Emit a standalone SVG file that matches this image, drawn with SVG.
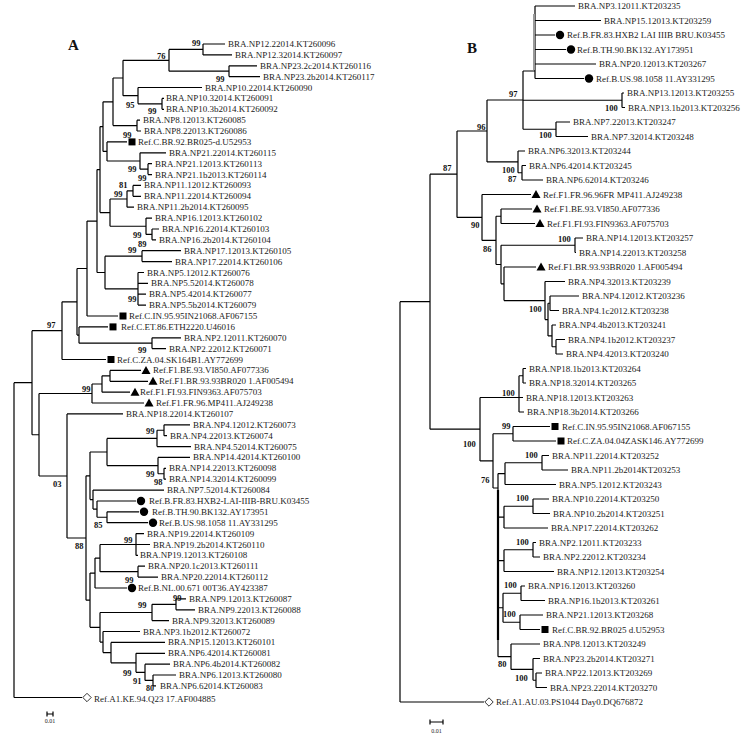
<svg xmlns="http://www.w3.org/2000/svg" xmlns:xlink="http://www.w3.org/1999/xlink" width="750" height="739" viewBox="0 0 750 739">
<style>
.t{font-family:"Liberation Serif",serif;font-size:9px;fill:#222}
.bs{font-family:"Liberation Serif",serif;font-size:8.5px;font-weight:bold;fill:#111}
.ttl{font-family:"Liberation Serif",serif;font-size:15px;font-weight:bold;fill:#111}
.sc{font-family:"Liberation Serif",serif;font-size:6px;fill:#222}
.e{fill:none;stroke:#000;stroke-width:1.2}
</style>
<defs>
<rect id="sq" x="-3.5" y="-3.5" width="7" height="7" fill="#000"/>
<path id="tri" d="M0,-4.5L4.5,3.5H-4.5Z" fill="#000"/>
<circle id="dot" r="4.2" fill="#000"/>
<path id="dia" d="M0,-4.2L4.2,0L0,4.2L-4.2,0Z" fill="#fff" stroke="#000" stroke-width="0.8"/>
</defs>
<rect width="750" height="739" fill="#fff"/>
<text class="ttl" x="68" y="50">A</text>
<text class="ttl" x="467" y="53">B</text>
<g id="connectors-a" class="e">
<path d="M203,44V54.9M203,44H225M203,54.9H232"/>
<path d="M229,65.8V76.6M229,65.8H257M229,76.6H260"/>
<path d="M169,49.45V71.2M169,49.45H203M169,71.2H229"/>
<path d="M162,98.4V109.3M162,98.4H164M162,109.3H164"/>
<path d="M138,87.5V103.85M138,87.5H202M138,103.85H162"/>
<path d="M123,60.3V95.7M123,60.3H169M123,95.7H138"/>
<path d="M137,120.2V131M137,120.2H140M137,131H141"/>
<path d="M113,78V125.6M113,78H123M113,125.6H137"/>
<path d="M148,163.7V174.6M148,163.7H152M148,174.6H152"/>
<path d="M140,152.8V169.15M140,152.8H166M140,169.15H148"/>
<path d="M107,141.9V161M107,141.9H127M107,161H140"/>
<path d="M103,101.8V151.45M103,101.8H113M103,151.45H107"/>
<path d="M133,185.4V196.3M133,185.4H141M133,196.3H141"/>
<path d="M127,190.85V207.2M127,190.85H133M127,207.2H134"/>
<path d="M152,229V239.8M152,229H159M152,239.8H156"/>
<path d="M146,218.1V234.4M146,218.1H152M146,234.4H152"/>
<path d="M110,199V226.25M110,199H127M110,226.25H146"/>
<path d="M100,126.6V212.6M100,126.6H103M100,212.6H110"/>
<path d="M142,250.7V261.6M142,250.7H181M142,261.6H172"/>
<path d="M138,272.5V305.1M138,272.5H144M138,283.4H148M138,294.2H146M138,305.1H146"/>
<path d="M105,256.15V288.8M105,256.15H142M105,288.8H138"/>
<path d="M97,169.6V272.5M97,169.6H100M97,272.5H105"/>
<path d="M87,221.05V316M87,221.05H97M87,316H118"/>
<path d="M152,337.8V348.6M152,337.8H181M152,348.6H166"/>
<path d="M79,326.9V343.2M79,326.9H108M79,343.2H152"/>
<path d="M77,268.5V335.05M77,268.5H87M77,335.05H79"/>
<path d="M62,301.8V359.5M62,301.8H77M62,359.5H106"/>
<path d="M110,370.4V381.3M110,370.4H141M110,381.3H148"/>
<path d="M102,375.85V392.2M102,375.85H110M102,392.2H130"/>
<path d="M92,384V403M92,384H102M92,403H144"/>
<path d="M164,424.8V435.7M164,424.8H190M164,435.7H167"/>
<path d="M157,430.25V446.6M157,430.25H164M157,446.6H191"/>
<path d="M164,468.3V479.2M164,468.3H166M164,479.2H166"/>
<path d="M158,457.4V473.75M158,457.4H190M158,473.75H164"/>
<path d="M107,438.4V465.6M107,438.4H157M107,465.6H158"/>
<path d="M107,511.8V522.7M107,511.8H139M107,522.7H148"/>
<path d="M97,501V517.25M97,501H136M97,517.25H107"/>
<path d="M93,490.1V509.1M93,490.1H164M93,509.1H97"/>
<path d="M90,452V499.6M90,452H107M90,499.6H93"/>
<path d="M136,533.6V555.4M136,533.6H144M136,544.5H150M136,555.4H138"/>
<path d="M138,566.2V577.1M138,566.2H145M138,577.1H158"/>
<path d="M100,544.5V571.65M100,544.5H136M100,571.65H138"/>
<path d="M95,558.1V588M95,558.1H100M95,588H127"/>
<path d="M176,598.9V609.8M176,598.9H186M176,609.8H195"/>
<path d="M152,604.35V620.6M152,604.35H176M152,620.6H169"/>
<path d="M153,675V685.9M153,675H176M153,685.9H156"/>
<path d="M145,664.2V680.45M145,664.2H170M145,680.45H153"/>
<path d="M136,653.3V672.3M136,653.3H165M136,672.3H145"/>
<path d="M111,642.4V662.8M111,642.4H165M111,662.8H136"/>
<path d="M103,631.5V652.6M103,631.5H140M103,652.6H111"/>
<path d="M100,612.5V642.05M100,612.5H152M100,642.05H103"/>
<path d="M90,573.05V627.3M90,573.05H95M90,627.3H100"/>
<path d="M86,475.8V600.2M86,475.8H90M86,600.2H90"/>
<path d="M67,413.9V538M67,413.9H123M67,538H86"/>
<path d="M39,393.5V476M39,393.5H92M39,476H67"/>
<path d="M32,330.65V434.75M32,330.65H62M32,434.75H39"/>
<path d="M14,382.7V697.5M14,382.7H32M14,697.5H82"/>
</g>
<g id="connectors-b" class="e">
<path d="M535,6V78.5M535,6H575M535,20.5H601M535,35H555M535,49.5H566M535,64H596M535,78.5H584"/>
<path d="M534,14V70" stroke="#999" stroke-width="2"/>
<path d="M622,93V107.5M622,93H624M622,107.5H625"/>
<path d="M556,122V136.5M556,122H570M556,136.5H588"/>
<path d="M523,71V129.25M523,71H535M523,100.25H622M523,129.25H556"/>
<path d="M522,165.5V180M522,165.5H526M522,180H543"/>
<path d="M518,151V172.75M518,151H525M518,172.75H522"/>
<path d="M487,100V161.9M487,100H523M487,161.9H518"/>
<path d="M501,209V223.5M501,209H532M501,223.5H535"/>
<path d="M575,238V252.5M575,238H583M575,252.5H576"/>
<path d="M556,339.5V354M556,339.5H565M556,354H563"/>
<path d="M552,325V346.75M552,325H556M552,346.75H556"/>
<path d="M550,296V310.5M550,296H579M550,310.5H559"/>
<path d="M548,303.25V335.9M548,303.25H550M548,335.9H552"/>
<path d="M545,281.5V319.6M545,281.5H565M545,319.6H548"/>
<path d="M504,267V300.55M504,267H536M504,300.55H545"/>
<path d="M501,245.25V283.8M501,245.25H575M501,283.8H504"/>
<path d="M496,216.25V264.5M496,216.25H501M496,264.5H501"/>
<path d="M482,194.5V240.4M482,194.5H531M482,240.4H496"/>
<path d="M457,131V217.45M457,131H487M457,217.45H482"/>
<path d="M523,368.5V383M523,368.5H526M523,383H526"/>
<path d="M519,375.75V412M519,375.75H523M519,397.5H523M519,412H524"/>
<path d="M513,426.5V441M513,426.5H550M513,441H556"/>
<path d="M542,455.5V470M542,455.5H549M542,470H568"/>
<path d="M505,462.75V484.5M505,462.75H542M505,484.5H556"/>
<path d="M533,499V513.5M533,499H549M533,513.5H550"/>
<path d="M504,506.25V528M504,506.25H533M504,528H548"/>
<path d="M533,542.5V557M533,542.5H536M533,557H540"/>
<path d="M504,549.75V571.5M504,549.75H533M504,571.5H554"/>
<path d="M521,586V600.5M521,586H525M521,600.5H545"/>
<path d="M520,615V629.5M520,615H543M520,629.5H540"/>
<path d="M503,593.25V622.25M503,593.25H521M503,622.25H520"/>
<path d="M536,673V687.5M536,673H542M536,687.5H547"/>
<path d="M533,658.5V680.25M533,658.5H540M533,680.25H536"/>
<path d="M511,644V669.4M511,644H540M511,669.4H533"/>
<path d="M498,473.6V656.7M498,473.6H505M498,517.1H504M498,560.6H504M498,607.75H503M498,656.7H511"/>
<path d="M498,490V640" stroke-width="2.2"/>
<path d="M493,433.75V488M493,433.75H513M493,488H498"/>
<path d="M480,397.5V460.9M480,397.5H519M480,460.9H493"/>
<path d="M430,174.2V429.2M430,174.2H457M430,429.2H480"/>
<path d="M400,301.7V702M400,301.7H430M400,702H484"/>
</g>
<g id="scale-bars">
<path class="e" d="M47,714H53M47,711.5V716.5M53,711.5V716.5" stroke-width="1"/>
<text class="sc" x="50" y="723" text-anchor="middle">0.01</text>
<path class="e" d="M430,722H443M430,719.5V724.5M443,719.5V724.5" stroke-width="1"/>
<text class="sc" x="436.5" y="733" text-anchor="middle">0.01</text>
</g>
<g id="support-a" class="bs">
<text x="192" y="46">99</text><text x="157" y="59">76</text><text x="216" y="82">99</text>
<text x="126" y="108">95</text><text x="148" y="114">99</text><text x="123" y="138">99</text>
<text x="128" y="172">99</text><text x="138" y="181">99</text><text x="119" y="188">81</text>
<text x="114" y="197">99</text><text x="133" y="238">99</text><text x="138" y="247">89</text>
<text x="128" y="253">99</text><text x="128" y="302">99</text><text x="47" y="328">97</text>
<text x="138" y="353">99</text><text x="82" y="392">99</text><text x="146" y="434">99</text>
<text x="146" y="477">99</text><text x="154" y="485">98</text><text x="53" y="487">03</text>
<text x="94" y="528">85</text><text x="124" y="543">99</text><text x="75" y="549">88</text>
<text x="125" y="583">99</text><text x="173" y="601">99</text><text x="138" y="608">99</text>
<text x="123" y="676">99</text><text x="133" y="684">91</text><text x="146" y="690.8" font-size="8">80</text>
</g>
<g id="support-b" class="bs">
<text x="509" y="97">97</text><text x="605" y="111">100</text><text x="477" y="130">96</text>
<text x="539" y="138">100</text><text x="502" y="173">100</text><text x="508" y="182">87</text>
<text x="443" y="171">87</text><text x="471" y="228">90</text><text x="558" y="242">100</text>
<text x="483" y="252">86</text><text x="529" y="312">100</text><text x="502" y="396">100</text>
<text x="502" y="429">99</text><text x="463" y="447">100</text><text x="525" y="458">100</text>
<text x="481" y="483">76</text><text x="516" y="501">100</text><text x="516" y="545">100</text>
<text x="504" y="588">100</text><text x="503" y="617">100</text><text x="498" y="667">80</text>
<text x="515" y="681">100</text>
</g>
<g class="t">
<g id="a01"><text x="228" y="47">BRA.NP12.22014.KT260096</text></g>
<g id="a02"><text x="235" y="57.9">BRA.NP12.32014.KT260097</text></g>
<g id="a03"><text x="260" y="68.8">BRA.NP23.2c2014.KT260116</text></g>
<g id="a04"><text x="263" y="79.6">BRA.NP23.2b2014.KT260117</text></g>
<g id="a05"><text x="205" y="90.5">BRA.NP10.22014.KT260090</text></g>
<g id="a06"><text x="166" y="101.4">BRA.NP10.32014.KT260091</text></g>
<g id="a07"><text x="166" y="112.3">BRA.NP10.3b2014.KT260092</text></g>
<g id="a08"><text x="143" y="123.2">BRA.NP8.12013.KT260085</text></g>
<g id="a09"><text x="144" y="134">BRA.NP8.22013.KT260086</text></g>
<g id="a10"><use href="#sq" x="132" y="141.9"/><text x="138" y="144.9">Ref.C.BR.92.BR025-d.U52953</text></g>
<g id="a11"><text x="169" y="155.8">BRA.NP21.22014.KT260115</text></g>
<g id="a12"><text x="155" y="166.7">BRA.NP21.12013.KT260113</text></g>
<g id="a13"><text x="155" y="177.6">BRA.NP21.1b2013.KT260114</text></g>
<g id="a14"><text x="144" y="188.4">BRA.NP11.12012.KT260093</text></g>
<g id="a15"><text x="144" y="199.3">BRA.NP11.22014.KT260094</text></g>
<g id="a16"><text x="137" y="210.2">BRA.NP11.2b2014.KT260095</text></g>
<g id="a17"><text x="155" y="221.1">BRA.NP16.12013.KT260102</text></g>
<g id="a18"><text x="162" y="232">BRA.NP16.22014.KT260103</text></g>
<g id="a19"><text x="159" y="242.8">BRA.NP16.2b2014.KT260104</text></g>
<g id="a20"><text x="184" y="253.7">BRA.NP17.12013.KT260105</text></g>
<g id="a21"><text x="175" y="264.6">BRA.NP17.22014.KT260106</text></g>
<g id="a22"><text x="147" y="275.5">BRA.NP5.12012.KT260076</text></g>
<g id="a23"><text x="151" y="286.4">BRA.NP5.52014.KT260078</text></g>
<g id="a24"><text x="149" y="297.2">BRA.NP5.42014.KT260077</text></g>
<g id="a25"><text x="149" y="308.1">BRA.NP5.5b2014.KT260079</text></g>
<g id="a26"><use href="#sq" x="123" y="316"/><text x="129" y="319">Ref.C.IN.95.95IN21068.AF067155</text></g>
<g id="a27"><use href="#sq" x="113" y="326.9"/><text x="121" y="329.9">Ref.C.ET.86.ETH2220.U46016</text></g>
<g id="a28"><text x="184" y="340.8">BRA.NP2.12011.KT260070</text></g>
<g id="a29"><text x="169" y="351.6">BRA.NP2.22012.KT260071</text></g>
<g id="a30"><use href="#sq" x="111" y="359.5"/><text x="117" y="362.5">Ref.C.ZA.04.SK164B1.AY772699</text></g>
<g id="a31"><use href="#tri" x="146" y="370.4"/><text x="153" y="373.4">Ref.F1.BE.93.VI850.AF077336</text></g>
<g id="a32"><use href="#tri" x="153" y="381.3"/><text x="159" y="384.3">Ref.F1.BR.93.93BR020 1.AF005494</text></g>
<g id="a33"><use href="#tri" x="135" y="392.2"/><text x="140" y="395.2">Ref.F1.FI.93.FIN9363.AF075703</text></g>
<g id="a34"><use href="#tri" x="149" y="403"/><text x="156" y="406">Ref.F1.FR.96.MP411.AJ249238</text></g>
<g id="a35"><text x="126" y="416.9">BRA.NP18.22014.KT260107</text></g>
<g id="a36"><text x="193" y="427.8">BRA.NP4.12012.KT260073</text></g>
<g id="a37"><text x="170" y="438.7">BRA.NP4.22013.KT260074</text></g>
<g id="a38"><text x="194" y="449.6">BRA.NP4.52014.KT260075</text></g>
<g id="a39"><text x="193" y="460.4">BRA.NP14.42014.KT260100</text></g>
<g id="a40"><text x="169" y="471.3">BRA.NP14.22013.KT260098</text></g>
<g id="a41"><text x="169" y="482.2">BRA.NP14.32014.KT260099</text></g>
<g id="a42"><text x="167" y="493.1">BRA.NP7.52014.KT260084</text></g>
<g id="a43"><use href="#dot" x="141" y="501"/><text x="149" y="504">Ref.B.FR.83.HXB2-LAI-IIIB-BRU.K03455</text></g>
<g id="a44"><use href="#dot" x="144" y="511.8"/><text x="152" y="514.8">Ref.B.TH.90.BK132.AY173951</text></g>
<g id="a45"><use href="#dot" x="153" y="522.7"/><text x="159" y="525.7">Ref.B.US.98.1058 11.AY331295</text></g>
<g id="a46"><text x="147" y="536.6">BRA.NP19.22014.KT260109</text></g>
<g id="a47"><text x="153" y="547.5">BRA.NP19.2b2014.KT260110</text></g>
<g id="a48"><text x="140" y="558.4">BRA.NP19.12013.KT260108</text></g>
<g id="a49"><text x="148" y="569.2">BRA.NP20.1c2013.KT260111</text></g>
<g id="a50"><text x="161" y="580.1">BRA.NP20.22014.KT260112</text></g>
<g id="a51"><use href="#dot" x="132" y="588"/><text x="138" y="591">Ref.B.NL.00.671 00T36.AY423387</text></g>
<g id="a52"><text x="189" y="601.9">BRA.NP9.12013.KT260087</text></g>
<g id="a53"><text x="198" y="612.8">BRA.NP9.22013.KT260088</text></g>
<g id="a54"><text x="172" y="623.6">BRA.NP9.32013.KT260089</text></g>
<g id="a55"><text x="143" y="634.5">BRA.NP3.1b2012.KT260072</text></g>
<g id="a56"><text x="168" y="645.4">BRA.NP15.12013.KT260101</text></g>
<g id="a57"><text x="168" y="656.3">BRA.NP6.42014.KT260081</text></g>
<g id="a58"><text x="173" y="667.2">BRA.NP6.4b2014.KT260082</text></g>
<g id="a59"><text x="179" y="678">BRA.NP6.12013.KT260080</text></g>
<g id="a60"><text x="160" y="688.9">BRA.NP6.62014.KT260083</text></g>
<g id="a61"><use href="#dia" x="87" y="697.5"/><text x="94" y="701.5">Ref.A1.KE.94.Q23 17.AF004885</text></g>
<g id="b01"><text x="578" y="9">BRA.NP3.12011.KT203235</text></g>
<g id="b02"><text x="604" y="23.5">BRA.NP15.12013.KT203259</text></g>
<g id="b03"><use href="#dot" x="560" y="35"/><text x="567" y="38">Ref.B.FR.83.HXB2 LAI IIIB BRU.K03455</text></g>
<g id="b04"><use href="#dot" x="571" y="49.5"/><text x="577" y="52.5">Ref.B.TH.90.BK132.AY173951</text></g>
<g id="b05"><text x="599" y="67">BRA.NP20.12013.KT203267</text></g>
<g id="b06"><use href="#dot" x="589" y="78.5"/><text x="596" y="81.5">Ref.B.US.98.1058 11.AY331295</text></g>
<g id="b07"><text x="627" y="96">BRA.NP13.12013.KT203255</text></g>
<g id="b08"><text x="628" y="110.5">BRA.NP13.1b2013.KT203256</text></g>
<g id="b09"><text x="573" y="125">BRA.NP7.22013.KT203247</text></g>
<g id="b10"><text x="591" y="139.5">BRA.NP7.32014.KT203248</text></g>
<g id="b11"><text x="528" y="154">BRA.NP6.32013.KT203244</text></g>
<g id="b12"><text x="529" y="168.5">BRA.NP6.42014.KT203245</text></g>
<g id="b13"><text x="546" y="183">BRA.NP6.62014.KT203246</text></g>
<g id="b14"><use href="#tri" x="536" y="194.5"/><text x="543" y="197.5">Ref.F1.FR.96.96FR MP411.AJ249238</text></g>
<g id="b15"><use href="#tri" x="537" y="209"/><text x="544" y="212">Ref.F1.BE.93.VI850.AF077336</text></g>
<g id="b16"><use href="#tri" x="540" y="223.5"/><text x="547" y="226.5">Ref.F1.FI.93.FIN9363.AF075703</text></g>
<g id="b17"><text x="586" y="241">BRA.NP14.12013.KT203257</text></g>
<g id="b18"><text x="579" y="255.5">BRA.NP14.22013.KT203258</text></g>
<g id="b19"><use href="#tri" x="541" y="267"/><text x="548" y="270">Ref.F1.BR.93.93BR020 1.AF005494</text></g>
<g id="b20"><text x="568" y="284.5">BRA.NP4.32013.KT203239</text></g>
<g id="b21"><text x="582" y="299">BRA.NP4.12012.KT203236</text></g>
<g id="b22"><text x="562" y="313.5">BRA.NP4.1c2012.KT203238</text></g>
<g id="b23"><text x="559" y="328">BRA.NP4.4b2013.KT203241</text></g>
<g id="b24"><text x="568" y="342.5">BRA.NP4.1b2012.KT203237</text></g>
<g id="b25"><text x="566" y="357">BRA.NP4.42013.KT203240</text></g>
<g id="b26"><text x="529" y="371.5">BRA.NP18.1b2013.KT203264</text></g>
<g id="b27"><text x="529" y="386">BRA.NP18.32014.KT203265</text></g>
<g id="b28"><text x="526" y="400.5">BRA.NP18.12013.KT203263</text></g>
<g id="b29"><text x="527" y="415">BRA.NP18.3b2014.KT203266</text></g>
<g id="b30"><use href="#sq" x="555" y="426.5"/><text x="562" y="429.5">Ref.C.IN.95.95IN21068.AF067155</text></g>
<g id="b31"><use href="#sq" x="561" y="441"/><text x="567" y="444">Ref.C.ZA.04.04ZASK146.AY772699</text></g>
<g id="b32"><text x="552" y="458.5">BRA.NP11.22014.KT203252</text></g>
<g id="b33"><text x="571" y="473">BRA.NP11.2b2014KT203253</text></g>
<g id="b34"><text x="559" y="487.5">BRA.NP5.12012.KT203243</text></g>
<g id="b35"><text x="552" y="502">BRA.NP10.22014.KT203250</text></g>
<g id="b36"><text x="553" y="516.5">BRA.NP10.2b2014.KT203251</text></g>
<g id="b37"><text x="551" y="531">BRA.NP17.22014.KT203262</text></g>
<g id="b38"><text x="539" y="545.5">BRA.NP2.12011.KT203233</text></g>
<g id="b39"><text x="543" y="560">BRA.NP2.22012.KT203234</text></g>
<g id="b40"><text x="557" y="574.5">BRA.NP12.12013.KT203254</text></g>
<g id="b41"><text x="528" y="589">BRA.NP16.12013.KT203260</text></g>
<g id="b42"><text x="548" y="603.5">BRA.NP16.1b2013.KT203261</text></g>
<g id="b43"><text x="546" y="618">BRA.NP21.12013.KT203268</text></g>
<g id="b44"><use href="#sq" x="545" y="629.5"/><text x="552" y="632.5">Ref.C.BR.92.BR025 d.U52953</text></g>
<g id="b45"><text x="543" y="647">BRA.NP8.12013.KT203249</text></g>
<g id="b46"><text x="543" y="661.5">BRA.NP23.2b2014.KT203271</text></g>
<g id="b47"><text x="545" y="676">BRA.NP22.12013.KT203269</text></g>
<g id="b48"><text x="550" y="690.5">BRA.NP23.22014.KT203270</text></g>
<g id="b49"><use href="#dia" x="489" y="702"/><text x="496" y="705">Ref.A1.AU.03.PS1044 Day0.DQ676872</text></g>
</g>
</svg>
